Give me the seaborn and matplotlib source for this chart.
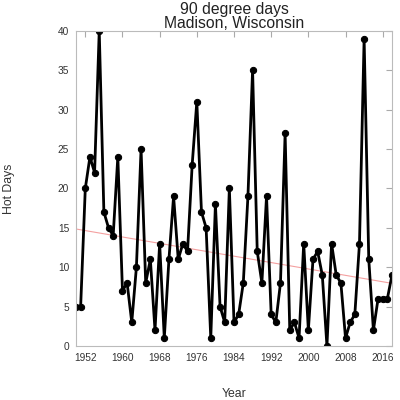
import numpy as np
import pandas as pd
import matplotlib
matplotlib.use('Agg')
import matplotlib.pyplot as plt
import seaborn as sns

# Hot days (90F+) per year, Madison WI
years = list(range(1950, 2019))
hot_days = [5, 5, 20, 24, 22, 40, 17, 15, 14, 24,
            7, 8, 3, 10, 25, 8, 11, 2, 13, 1,
            11, 19, 11, 13, 12, 23, 31, 17, 15, 1,
            18, 5, 3, 20, 3, 4, 8, 19, 35, 12,
            8, 19, 4, 3, 8, 27, 2, 3, 1, 13,
            2, 11, 12, 9, 0, 13, 9, 8, 1, 3,
            4, 13, 39, 11, 2, 6, 6, 6, 9]
# trend line ends as drawn in the chart
trend_years = [1950, 2018]
trend_days = [14.85, 7.95]
x_ticks = [1952, 1960, 1968, 1976, 1984, 1992, 2000, 2008, 2016]
y_ticks = [0, 5, 10, 15, 20, 25, 30, 35, 40]

df = pd.DataFrame({'Year': years, 'Hot Days': hot_days})
trend = pd.DataFrame({'Year': trend_years, 'Hot Days': trend_days})

sns.set_style('white')
plt.rcParams['font.family'] = ['Liberation Sans', 'DejaVu Sans']

fig = plt.figure(figsize=(4, 4), dpi=100)
ax = fig.add_axes([0.19, 0.135, 0.79, 0.788])

sns.lineplot(data=trend, x='Year', y='Hot Days', color='#f4a0a0',
             linewidth=0.8, ax=ax)
sns.lineplot(data=df, x='Year', y='Hot Days', color='black', linewidth=2,
             marker='o', markersize=4.5, markeredgecolor='black', ax=ax)

ax.set_xlim(1950, 2018)
ax.set_ylim(0, 40)
ax.set_xticks(x_ticks)
ax.set_yticks(y_ticks)
ax.tick_params(direction='in', length=4, color='#aaaaaa', labelsize=7.3,
               labelcolor='#333333', top=True, right=True,
               labeltop=False, labelright=False, pad=5)
for s in ax.spines.values():
    s.set_color('#bbbbbb')
    s.set_linewidth(0.8)

ax.set_xlabel('Year', fontsize=8.8, color='#333333', labelpad=18)
ax.set_ylabel('Hot Days', fontsize=8.8, color='#333333', labelpad=31)
ax.set_title('90 degree days\nMadison, Wisconsin', fontsize=11.3,
             color='#222222', pad=2, linespacing=0.9)

fig.savefig('out.png', dpi=100)
